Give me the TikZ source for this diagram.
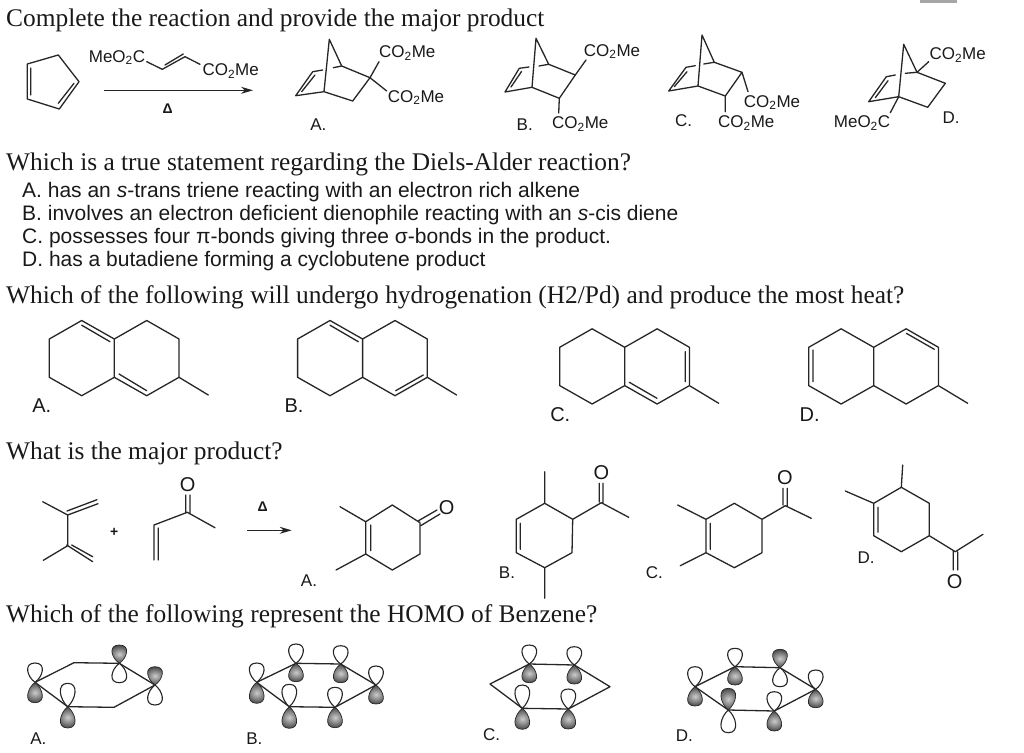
\documentclass[tikz,border=0pt]{standalone}
\usepackage{fontspec}
\setmainfont{Liberation Serif}
\newfontfamily\helv{Liberation Sans}
\usetikzlibrary{arrows.meta}
\newcommand{\coome}{CO\textsubscript{2}Me}
\newcommand{\meooc}{MeO\textsubscript{2}C}
\tikzset{
	bond/.style={line width=1.3pt, black!85, line cap=round, line join=round},
	rxn/.style={line width=1.2pt, black!85, -{Stealth[length=12pt,width=7pt]}},
	question/.style={anchor=base west, inner sep=0pt, font=\fontsize{25.4}{28}\selectfont, black!90},
	answer/.style={anchor=base west, inner sep=0pt, font=\helv\fontsize{21}{24}\selectfont, black!90},
	chem/.style={inner sep=0pt, font=\helv\fontsize{17}{19}\selectfont, black!90},
	oxy/.style={inner sep=0pt, font=\helv\fontsize{20}{22}\selectfont, black!90},
	tag/.style={inner sep=0pt, font=\helv\fontsize{17}{19}\selectfont, black!90},
	bigtag/.style={inner sep=0pt, font=\helv\fontsize{20}{22}\selectfont, black!90},
	lobe/.style={line width=1.1pt, black!85, fill=white},
	greylobe/.style={line width=.7pt, black!85, shade, inner color=black!20, outer color=black!72}
}
\newcommand{\orbital}[4]{\draw[#4,shift={(#1,#2)},yscale=#3]
	(0,0) .. controls (-8,.3) and (-11.5,1) .. (0,1) .. controls (11.5,1) and (8,.3) .. (0,0);}
\newcommand{\decalin}[3]{\begin{scope}[shift={(#1,#2)}]
	\draw[bond] (0,0) -- (32.4,-18.5) -- (65,0) -- (65,38.3) -- (32.4,56.7) -- (0,38.3) -- cycle
	(65,0) -- (97.4,-18.5) -- (129.7,0) -- (129.7,38.3) -- (97.4,56.7) -- (65,38.3)
	(129.7,38.3) -- (159,56);
	#3
\end{scope}}
\begin{document}
\begin{tikzpicture}[x=1pt,y=-1pt]
\useasboundingbox (0,0) rectangle (1024,752);
\fill[black!35] (920,0) rectangle (957,3);

\node[question] (title) at (6,27) {Complete the reaction and provide the major product};
\node[question] (qda) at (6,170) {Which is a true statement regarding the Diels-Alder reaction?};
\node[answer] (ansa) at (22,197) {A. has an \textit{s}-trans triene reacting with an electron rich alkene};
\node[answer] (ansb) at (22,220) {B. involves an electron deficient dienophile reacting with an \textit{s}-cis diene};
\node[answer] (ansc) at (22,243) {C. possesses four π-bonds giving three σ-bonds in the product.};
\node[answer] (ansd) at (22,266) {D. has a butadiene forming a cyclobutene product};
\node[question] (qhyd) at (6,303) {Which of the following will undergo hydrogenation (H2/Pd) and produce the most heat?};
\node[question] (qprod) at (6,459) {What is the major product?};
\node[question] (qhomo) at (6,622) {Which of the following represent the HOMO of Benzene?};

\draw[bond] (58.3,55) -- (27.3,64) -- (27.3,99) -- (59.3,109) -- (79,81.7) -- cycle
	(30.7,68) -- (30.7,95) (58.3,103.3) -- (74,83.3);
\node[chem] (dieneester) at (117,57.7) {\meooc};
\node[chem] (dieneesterb) at (230.7,71) {\coome};
\draw[bond] (146.7,61.7) -- (162.3,69.3) -- (185,56.7) -- (200,64.3) (165,65) -- (183.3,54);
\coordinate (rxnstart) at (104,90.3);
\coordinate (rxnend) at (253,90.3);
\draw[rxn] (rxnstart) -- (rxnend);
\node[tag] (heat) at (167.7,109) {\fontsize{14}{15}\selectfont\bfseries Δ};

\draw[bond] (329.3,39.3) -- (324,91.7) -- (295.7,95.7) -- (312.7,71.7) -- (322.7,70)
	(333.3,67.7) -- (341.7,66) -- (329.3,39.3)
	(341.7,66) -- (370,77.7) -- (352.7,101) -- (324,91.7) (301.7,91.7) -- (315,75)
	(370,77.7) -- (379,61.7) (370,77.7) -- (386.7,91);
\node[chem] (aesterup) at (407.3,53.3) {\coome};
\node[chem] (aesterdown) at (416,97.7) {\coome};
\node[tag] (taga) at (318.3,124.3) {A.};

\draw[bond] (536,38.3) -- (532,87.3) -- (505,92) -- (519.3,68.3) -- (529,67)
	(539,66) -- (548.7,64.3) -- (536,38.3)
	(548.7,64.3) -- (575.3,75) -- (559.3,98.3) -- (532,87.3) (511,87) -- (521.5,71.5)
	(575.3,75) -- (586,60) (559.3,98.3) -- (558.7,113);
\node[chem] (besterup) at (612,51.7) {\coome};
\node[chem] (besterdown) at (580.3,124.3) {\coome};
\node[tag] (tagb) at (524.7,124.3) {B.};

\draw[bond] (702,35) -- (698,86) -- (668.7,91) -- (686,67.3) -- (695.3,65.7)
	(703.7,64) -- (714.3,62.3) -- (702,35)
	(714.3,62.3) -- (742,72.3) -- (725.3,96) -- (698,86) (674.3,86.7) -- (687,71.7)
	(742,72.3) -- (748,91.7) (725.3,96) -- (725.3,111.7);
\node[chem] (cesterup) at (772,102.7) {\coome};
\node[chem] (cesterdown) at (746.3,123.3) {\coome};
\node[tag] (tagc) at (683.7,120.7) {C.};

\draw[bond] (903.7,44.3) -- (898.7,96.7) -- (868.7,101.7) -- (886.3,76.7) -- (895.3,75)
	(905.3,73.3) -- (917,72.3) -- (903.7,44.3)
	(917,72.3) -- (945.3,83.3) -- (927.7,107.3) -- (898.7,96.7) (875.3,97.7) -- (888,80.7)
	(917,72.3) -- (928.7,61.7) (898.7,96.7) -- (890.3,112.7);
\node[chem] (desterup) at (957.7,55) {\coome};
\node[chem] (desterdown) at (862,123.3) {\meooc};
\node[tag] (tagd) at (951,117.7) {D.};

\decalin{49.3}{339}{\draw[bond] (32.4,-13.8) -- (60.7,2.7) (69.7,35) -- (97.4,51.7);}
\node[bigtag] (hyda) at (41.7,405.7) {A.};
\decalin{297.6}{339}{\draw[bond] (32.4,-13.8) -- (60.7,2.7) (98.1,51.7) -- (125.7,36);}
\node[bigtag] (hydb) at (294,405.7) {B.};
\decalin{559.7}{347.3}{\draw[bond] (125.6,4.4) -- (125.6,34.4) (69.6,35) -- (97.3,51);}
\node[bigtag] (hydc) at (560.3,415) {C.};
\decalin{808.7}{347.3}{\draw[bond] (4.3,2.7) -- (4.3,34.4) (97.6,-14) -- (125.6,2);}
\node[bigtag] (hydd) at (809.7,415) {D.};

\draw[bond] (42.7,501.7) -- (67.7,515) -- (67.7,545.7) -- (43.3,560.3)
	(67.7,515) -- (98,503.7) (67,511) -- (97,499.7)
	(66.7,545) -- (92.7,561.7) (71.7,545) -- (92.7,556.7);
\node[tag] (plus) at (114.3,532.3) {\fontsize{14}{14}\selectfont\bfseries +};
\draw[bond] (154,560) -- (154,525) -- (187.3,512.3) -- (215,527.7)
	(158.3,528) -- (158.3,560) (185.7,495) -- (185.7,512) (190,495) -- (190,513);
\node[oxy] (enoneo) at (187.7,485) {O};
\node[tag] (heatb) at (262.7,506.7) {\fontsize{14}{15}\selectfont\bfseries Δ};
\coordinate (prodstart) at (247.3,530.3);
\coordinate (prodend) at (291.7,530.3);
\draw[rxn] (prodstart) -- (prodend);

\draw[bond] (365.7,521.7) -- (392.3,505) -- (420,522.7) -- (420,554) -- (392.3,570) -- (365.7,554) -- cycle
	(340,506.7) -- (365.7,521.7) (365.7,554) -- (336,570) (370.7,525) -- (370.7,550.7)
	(418,521) -- (437,510) (421,525.5) -- (440,514);
\node[oxy] (proao) at (446.7,507.7) {O};
\node[tag] (proa) at (309,581) {A.};

\draw[bond] (544.7,503.3) -- (572.7,519.3) -- (572,552.7) -- (544.7,567.7) -- (516.3,552.7) -- (516.3,519.3) -- cycle
	(544.7,503.3) -- (544.7,471.7) (544.7,567.7) -- (544.7,598.3) (520.3,523.3) -- (520.3,549.3)
	(572.7,519.3) -- (601.3,502.7) -- (628.7,517.3) (599.3,483.3) -- (599.3,502) (603,483.3) -- (603,503);
\node[oxy] (probo) at (601.3,472.3) {O};
\node[tag] (prob) at (507,573) {B.};

\draw[bond] (734.3,503.3) -- (762,519.3) -- (762,552.7) -- (734.3,567.7) -- (706,552.7) -- (706,519.3) -- cycle
	(706,519.3) -- (677.7,505) (706,552.7) -- (680.3,565.7) (710.3,523.3) -- (710.3,549.3)
	(762,519.3) -- (785.3,505.7) -- (811.3,518.3) (783,488.3) -- (783,505) (787.3,488.3) -- (787.3,506);
\node[oxy] (procoo) at (785,477.7) {O};
\node[tag] (proc) at (654.3,572.3) {C.};

\draw[bond] (901.3,487.3) -- (929.3,503.3) -- (929.3,535.7) -- (901.3,551.7) -- (873.7,535.7) -- (873.7,503.3) -- cycle
	(901.3,487.3) -- (902.7,465) (873.7,503.3) -- (845.3,491) (878,507.3) -- (878,532.3)
	(929.3,535.7) -- (955.3,551.7) -- (983,534.3) (953.3,551) -- (953.3,570) (957.7,552) -- (957.7,570);
\node[oxy] (prodo) at (954.7,581.7) {O};
\node[tag] (prod) at (866,557.3) {D.};

\draw[bond] (35,682.3) -- (74,662.7) -- (119.3,663.3) -- (155,685) -- (114,707.3) -- (67.7,706.7) -- cycle;
\foreach \x/\y/\h in {35/682.3/-19.3,67.7/706.7/-23.4,119.3/663.3/19.4,155/685/20}
	\orbital{\x}{\y}{\h}{lobe};
\foreach \x/\y/\h in {35/682.3/20.4,67.7/706.7/21.3,119.3/663.3/-18.3,155/685/-18.3}
	\orbital{\x}{\y}{\h}{greylobe};
\node[tag] (homoa) at (38.3,738.3) {A.};

\draw[bond] (256.7,682.3) -- (296,663.3) -- (340.7,664) -- (376,685) -- (335,707.3) -- (289.3,706.7) -- cycle;
\foreach \x/\y/\h in {256.7/682.3/-19.3,296/663.3/-19.3,340.7/664/-18.3,376/685/-19,289.3/706.7/-22.4,335/707.3/-20}
	\orbital{\x}{\y}{\h}{lobe};
\foreach \x/\y/\h in {256.7/682.3/21,296/663.3/18.4,340.7/664/18.7,376/685/19,289.3/706.7/21.6,335/707.3/20.4}
	\orbital{\x}{\y}{\h}{greylobe};
\node[tag] (homob) at (254.3,738.3) {B.};

\draw[bond] (490,684) -- (529.3,664) -- (574.3,665) -- (610,686.7) -- (568.3,709) -- (522.3,708.3) -- cycle;
\foreach \x/\y/\h in {529.3/664/-19,574.3/665/-18.3,522.3/708.3/-23.3,568.3/709/-20}
	\orbital{\x}{\y}{\h}{lobe};
\foreach \x/\y/\h in {529.3/664/18.7,574.3/665/19,522.3/708.3/21,568.3/709/20}
	\orbital{\x}{\y}{\h}{greylobe};
\node[tag] (homoc) at (491.7,735) {C.};

\draw[bond] (695,686.7) -- (735,666.7) -- (780,667.7) -- (815.7,689.3) -- (774.3,711) -- (728.3,710) -- cycle;
\foreach \x/\y/\h in {695/686.7/-20,735/666.7/-18.4,780/667.7/19,815.7/689.3/-19.3,728.3/710/22.7,774.3/711/-19.3}
	\orbital{\x}{\y}{\h}{lobe};
\foreach \x/\y/\h in {695/686.7/19.3,735/666.7/18.3,780/667.7/-18.4,815.7/689.3/18.4,728.3/710/-21.7,774.3/711/20}
	\orbital{\x}{\y}{\h}{greylobe};
\node[tag] (homod) at (684.3,736) {D.};
\end{tikzpicture}
\end{document}
